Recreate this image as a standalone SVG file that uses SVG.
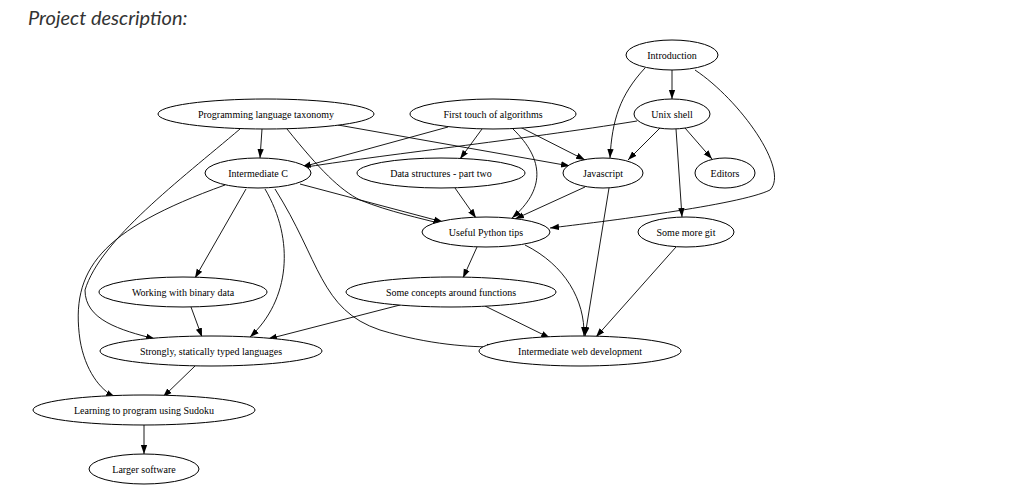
<svg xmlns="http://www.w3.org/2000/svg" width="1024" height="493" viewBox="0 0 1024 493">
<style>
.n ellipse{fill:#fff;stroke:#000;stroke-width:1}
.n text{font-family:"Liberation Serif",serif;font-size:10px;text-anchor:middle;fill:#000}
.e path{fill:none;stroke:#000;stroke-width:0.9;marker-end:url(#a)}
</style>
<defs><marker id="a" viewBox="0 0 10 10" refX="10" refY="5" markerWidth="9" markerHeight="9" markerUnits="userSpaceOnUse" orient="auto"><path d="M0,1.5 L10,5 L0,8.5z" fill="#000"/></marker></defs>
<rect width="1024" height="493" fill="#fff"/>
<text x="28" y="25" font-family="Lato,sans-serif" font-style="italic" font-size="20" fill="#333">Project description:</text>
<g class="e">
<path d="M672,70 L672,99"/>
<path d="M645,68 C620,95 612,120 610,158"/>
<path d="M695,70 C740,100 790,170 770,190 C740,205 600,222 550,228"/>
<path d="M637,121 C520,140 380,155 300,168"/>
<path d="M660,128 L628,160"/>
<path d="M685,128 L712,159"/>
<path d="M676,129 L682,217"/>
<path d="M262,129 L260,158"/>
<path d="M338,125 L570,166"/>
<path d="M287,129 C320,170 340,190 360,200 C390,212 420,218 442,224"/>
<path d="M240,129 C180,180 100,240 85,290 C85,320 120,330 155,339"/>
<path d="M448,127 L302,167"/>
<path d="M482,129 L460,159"/>
<path d="M520,127 L585,160"/>
<path d="M513,129 C545,160 545,190 512,218"/>
<path d="M300,184 L443,222"/>
<path d="M246,189 L195,278"/>
<path d="M265,189 C295,240 290,300 250,337"/>
<path d="M275,189 C320,260 320,310 380,330 C430,345 470,347 496,347"/>
<path d="M225,185 C100,230 70,270 80,340 C85,370 100,390 115,397"/>
<path d="M455,188 L476,218"/>
<path d="M585,187 L515,219"/>
<path d="M609,188 L585,336"/>
<path d="M477,247 L463,278"/>
<path d="M525,245 C565,265 585,300 584,336"/>
<path d="M676,247 L596,337"/>
<path d="M191,307 L202,337"/>
<path d="M400,305 L268,339"/>
<path d="M485,306 L550,338"/>
<path d="M195,366 L163,397"/>
<path d="M144,425 L144,454"/>
</g>
<g id="intro" class="n"><ellipse cx="672" cy="55" rx="46" ry="15"/><text x="672" y="59">Introduction</text></g>
<g id="unix" class="n"><ellipse cx="672" cy="114" rx="38" ry="15"/><text x="672" y="118">Unix shell</text></g>
<g id="plt" class="n"><ellipse cx="266" cy="114" rx="108" ry="15"/><text x="266" y="118">Programming language taxonomy</text></g>
<g id="first" class="n"><ellipse cx="493" cy="114" rx="83" ry="15"/><text x="493" y="118">First touch of algorithms</text></g>
<g id="intc" class="n"><ellipse cx="258" cy="173" rx="53" ry="15"/><text x="258" y="177">Intermediate C</text></g>
<g id="ds" class="n"><ellipse cx="441" cy="173" rx="84" ry="15"/><text x="441" y="177">Data structures - part two</text></g>
<g id="js" class="n"><ellipse cx="603" cy="173" rx="40" ry="15"/><text x="603" y="177">Javascript</text></g>
<g id="editors" class="n"><ellipse cx="725" cy="173" rx="30" ry="15"/><text x="725" y="177">Editors</text></g>
<g id="python" class="n"><ellipse cx="486" cy="232" rx="64" ry="15"/><text x="486" y="236">Useful Python tips</text></g>
<g id="git" class="n"><ellipse cx="686" cy="232" rx="48" ry="15"/><text x="686" y="236">Some more git</text></g>
<g id="binary" class="n"><ellipse cx="183" cy="292" rx="84" ry="15"/><text x="183" y="296">Working with binary data</text></g>
<g id="concepts" class="n"><ellipse cx="451" cy="292" rx="105" ry="15"/><text x="451" y="296">Some concepts around functions</text></g>
<g id="strong" class="n"><ellipse cx="211" cy="351" rx="111" ry="15"/><text x="211" y="355">Strongly, statically typed languages</text></g>
<g id="web" class="n"><ellipse cx="580" cy="351" rx="101" ry="15"/><text x="580" y="355">Intermediate web development</text></g>
<g id="sudoku" class="n"><ellipse cx="144" cy="410" rx="111" ry="15"/><text x="144" y="414">Learning to program using Sudoku</text></g>
<g id="larger" class="n"><ellipse cx="144" cy="469" rx="55" ry="15"/><text x="144" y="473">Larger software</text></g>
</svg>
